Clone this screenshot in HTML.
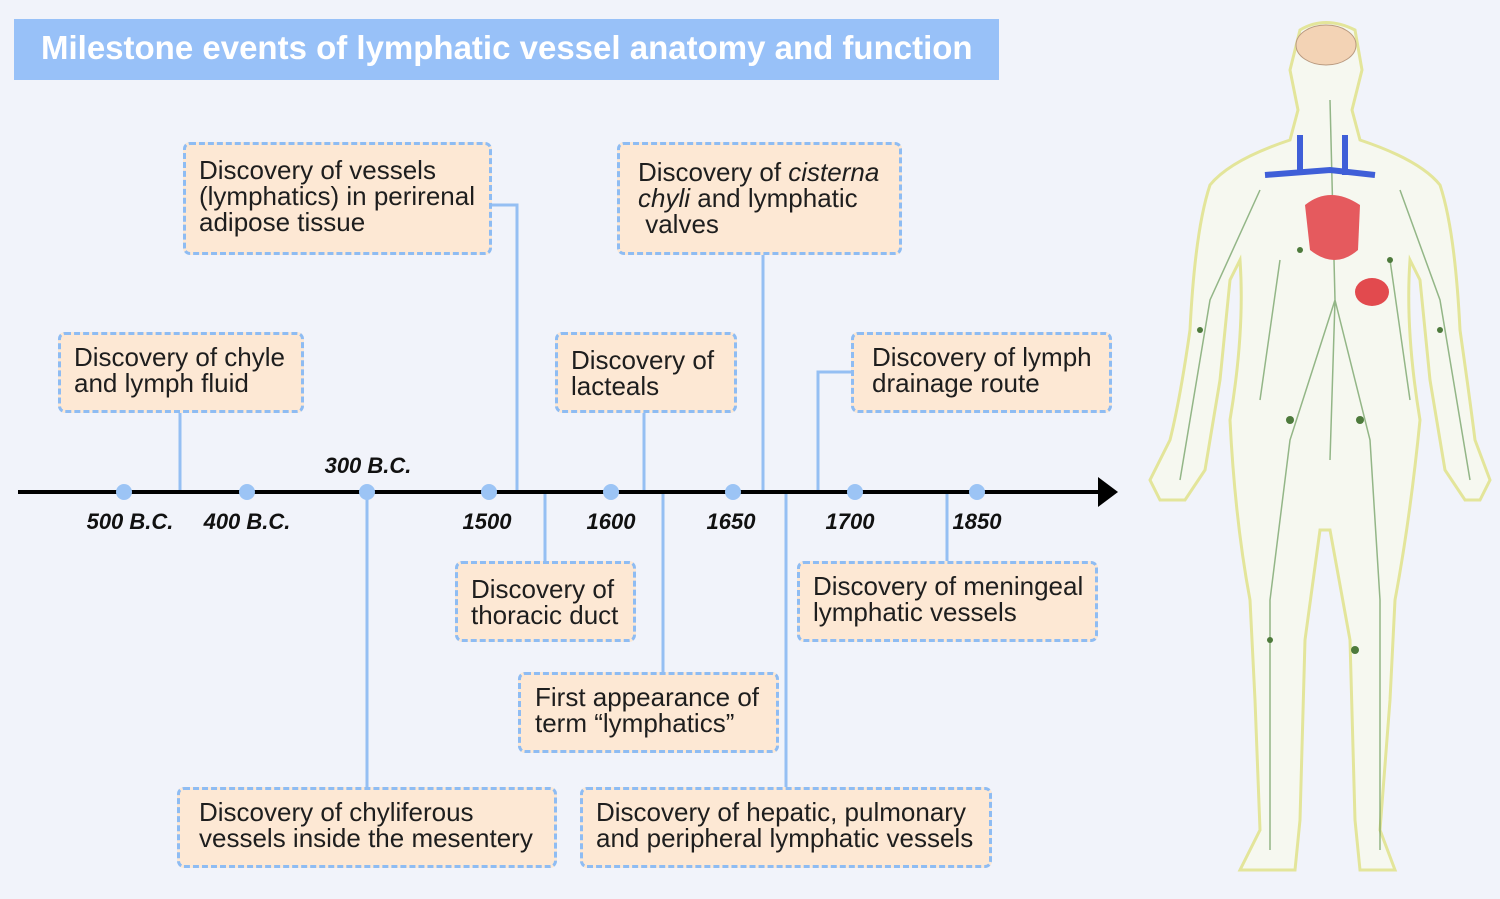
<!DOCTYPE html>
<html><head><meta charset="utf-8"><style>
body{margin:0;width:1500px;height:899px;overflow:hidden;background:#f1f3fa;font-family:"Liberation Sans",Arial,sans-serif;position:relative}
.t{position:absolute;left:14px;top:19px;width:985px;height:61px;background:#98c1f8;color:#fff;font-weight:bold;font-size:33px;line-height:57px;box-sizing:border-box;padding-left:27px;white-space:nowrap}
.b{position:absolute;box-sizing:border-box;background:#fde8d4;border:3px dashed #8ebcf3;border-radius:7px;color:#1e1e1e;font-size:26px;line-height:26px;padding:9px 0 0 13px;white-space:nowrap}
.l{position:absolute;font-style:italic;font-weight:bold;font-size:22px;color:#111;transform:translateX(-50%);white-space:nowrap}
svg{position:absolute;left:0;top:0}
</style></head><body>
<svg width="1500" height="899">
<g stroke="#95bff3" stroke-width="3" fill="none">
<polyline points="491,205 517,205 517,492"/>
<line x1="763" y1="254" x2="763" y2="492"/>
<line x1="180" y1="412" x2="180" y2="492"/>
<line x1="644" y1="412" x2="644" y2="492"/>
<polyline points="851,372 818,372 818,492"/>
<line x1="545" y1="561" x2="545" y2="492"/>
<line x1="663" y1="672" x2="663" y2="492"/>
<line x1="947" y1="561" x2="947" y2="492"/>
<line x1="367" y1="787" x2="367" y2="492"/>
<line x1="786" y1="787" x2="786" y2="492"/>
</g>
<line x1="18" y1="492" x2="1102" y2="492" stroke="#000" stroke-width="4"/>
<polygon points="1098,477 1118,492 1098,507" fill="#000"/>
<g fill="#9cc4f5">
<circle cx="124" cy="492" r="8"/><circle cx="247" cy="492" r="8"/><circle cx="367" cy="492" r="8"/><circle cx="489" cy="492" r="8"/><circle cx="611" cy="492" r="8"/><circle cx="733" cy="492" r="8"/><circle cx="855" cy="492" r="8"/><circle cx="977" cy="492" r="8"/>
</g>
<g fill="#f6f8f0" stroke="#e3e59a" stroke-width="3">
<path d="M1300,30 Q1325,15 1355,30 L1362,70 L1352,110 L1360,140 Q1420,160 1440,185 Q1455,230 1460,330 Q1470,400 1475,440 L1490,480 L1480,500 L1465,500 L1445,470 L1430,380 L1420,280 L1410,260 Q1405,330 1420,420 Q1410,520 1395,600 L1390,700 L1380,830 L1395,870 L1360,870 L1355,820 L1350,640 L1330,530 L1320,530 L1305,640 L1300,820 L1295,870 L1240,870 L1260,830 L1255,700 L1250,600 Q1235,520 1230,420 Q1245,330 1240,260 L1230,280 L1220,380 L1205,470 L1185,500 L1160,500 L1150,480 L1170,440 Q1180,400 1190,330 Q1195,230 1210,185 Q1230,160 1290,140 L1298,110 L1290,70 Z"/>
</g>
<g stroke="#6a9a5a" stroke-width="1.5" fill="none" opacity=".7">
<path d="M1330,100 L1335,300 L1330,460 M1335,300 L1290,440 L1270,600 L1270,850 M1335,300 L1370,440 L1380,600 L1380,850 M1260,190 L1210,300 L1180,480 M1400,190 L1440,300 L1470,480 M1280,260 L1260,400 M1390,260 L1410,400"/>
</g>
<g fill="#4d7a3c"><circle cx="1300" cy="250" r="3"/><circle cx="1390" cy="260" r="3"/><circle cx="1290" cy="420" r="4"/><circle cx="1360" cy="420" r="4"/><circle cx="1270" cy="640" r="3"/><circle cx="1355" cy="650" r="4"/><circle cx="1200" cy="330" r="3"/><circle cx="1440" cy="330" r="3"/></g>
<ellipse cx="1326" cy="45" rx="30" ry="20" fill="#f3d3b5" stroke="#b99a80"/>
<path d="M1265,175 L1330,170 L1375,175 M1300,135 L1300,175 M1345,135 L1345,175" stroke="#3f5fd8" stroke-width="6" fill="none"/>
<path d="M1305,205 Q1330,185 1360,205 L1358,250 Q1335,270 1310,250 Z" fill="#e55a5e"/>
<ellipse cx="1372" cy="292" rx="17" ry="14" fill="#e24a4e"/>
</svg>
<div class="t">Milestone events of lymphatic vessel anatomy and function</div>
<div class="b" style="left:183px;top:142px;width:309px;height:113px;padding-top:12px">Discovery of vessels<br>(lymphatics) in perirenal<br>adipose tissue</div>
<div class="b" style="left:617px;top:142px;width:285px;height:113px;padding-left:18px;padding-top:14px">Discovery of <i>cisterna</i><br><i>chyli</i> and lymphatic<br>&nbsp;valves</div>
<div class="b" style="left:58px;top:332px;width:246px;height:81px">Discovery of chyle<br>and lymph fluid</div>
<div class="b" style="left:555px;top:332px;width:182px;height:81px;padding-top:12px">Discovery of<br>lacteals</div>
<div class="b" style="left:851px;top:332px;width:261px;height:81px;padding-left:18px">Discovery of lymph<br>drainage route</div>
<div class="b" style="left:455px;top:561px;width:181px;height:81px;padding-top:12px">Discovery of<br>thoracic duct</div>
<div class="b" style="left:797px;top:561px;width:301px;height:81px">Discovery of meningeal<br>lymphatic vessels</div>
<div class="b" style="left:518px;top:672px;width:261px;height:81px;padding-left:14px">First appearance of<br>term “lymphatics”</div>
<div class="b" style="left:177px;top:787px;width:380px;height:81px;padding-left:19px">Discovery of chyliferous<br>vessels inside the mesentery</div>
<div class="b" style="left:580px;top:787px;width:412px;height:81px">Discovery of hepatic, pulmonary<br>and peripheral lymphatic vessels</div>
<div class="l" style="left:130px;top:509px">500 B.C.</div>
<div class="l" style="left:247px;top:509px">400 B.C.</div>
<div class="l" style="left:368px;top:453px">300 B.C.</div>
<div class="l" style="left:487px;top:509px">1500</div>
<div class="l" style="left:611px;top:509px">1600</div>
<div class="l" style="left:731px;top:509px">1650</div>
<div class="l" style="left:850px;top:509px">1700</div>
<div class="l" style="left:977px;top:509px">1850</div>
</body></html>
